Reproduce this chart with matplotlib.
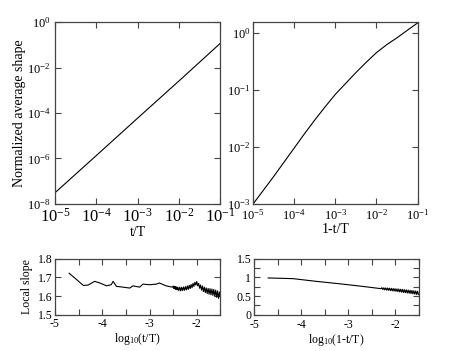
import matplotlib
matplotlib.use("Agg")
import matplotlib.pyplot as plt
from matplotlib.ticker import (FixedLocator, MultipleLocator, NullLocator,
                               NullFormatter, LogFormatterSciNotation)

plt.rcParams["font.family"] = ["Liberation Serif", "DejaVu Serif"]
plt.rcParams["mathtext.fontset"] = "custom"
plt.rcParams["mathtext.rm"] = "Liberation Serif"
plt.rcParams["mathtext.it"] = "Liberation Serif:italic"
plt.rcParams["axes.unicode_minus"] = False

# top left: average shape vs t/T (straight power law)
shape_t = [1e-5, 1e-4, 1e-3, 1e-2, 1e-1]
shape_early = [3.1e-8, 1.35e-6, 6.0e-5, 2.6e-3, 0.118]
decades_t = [1e-5, 1e-4, 1e-3, 1e-2, 1e-1]
decades_early = [1e-8, 1e-6, 1e-4, 1e-2, 1]
decades_late = [1e-3, 1e-2, 1e-1, 1]

# top right: average shape vs 1-t/T
late_t = [1e-5, 1.78e-5, 3.16e-5, 5.62e-5, 1e-4, 1.78e-4, 3.16e-4, 5.62e-4, 1e-3,
          1.78e-3, 3.16e-3, 5.62e-3, 1e-2, 1.78e-2, 3.16e-2, 5.62e-2, 1e-1]
shape_late = [1.0e-3, 1.74e-3, 3.02e-3, 5.37e-3, 9.55e-3, 1.70e-2, 2.95e-2, 5.01e-2,
              8.32e-2, 0.129, 0.200, 0.302, 0.447, 0.617, 0.813, 1.10, 1.48]

# bottom left: local slope vs log10(t/T)
slope_early_x = [-4.70, -4.55, -4.40, -4.30, -4.16, -4.05, -3.91, -3.81, -3.77, -3.70,
                 -3.56, -3.42, -3.35, -3.21, -3.14, -3.00, -2.86, -2.79, -2.65, -2.52,
                 -2.50, -2.49, -2.48, -2.47, -2.46, -2.45, -2.44, -2.43, -2.42, -2.41,
                 -2.40, -2.38, -2.36, -2.34, -2.32, -2.30, -2.28, -2.26, -2.24, -2.22,
                 -2.20, -2.18, -2.16, -2.14, -2.12, -2.10, -2.08, -2.06, -2.04, -2.02,
                 -2.00, -1.98, -1.96, -1.94, -1.92, -1.90, -1.88, -1.86, -1.84, -1.82,
                 -1.80, -1.78, -1.76, -1.74, -1.72, -1.70, -1.68, -1.66, -1.64, -1.62,
                 -1.60, -1.58, -1.56, -1.54, -1.52, -1.50]
slope_early = [1.722, 1.690, 1.657, 1.659, 1.679, 1.670, 1.655, 1.661, 1.679, 1.652,
               1.648, 1.643, 1.655, 1.648, 1.664, 1.661, 1.664, 1.670, 1.655, 1.648,
               1.654, 1.642, 1.652, 1.640, 1.651, 1.637, 1.649, 1.635, 1.648, 1.634,
               1.647, 1.629, 1.648, 1.628, 1.647, 1.630, 1.649, 1.631, 1.651, 1.633,
               1.655, 1.636, 1.658, 1.640, 1.662, 1.645, 1.668, 1.652, 1.674, 1.659,
               1.678, 1.655, 1.668, 1.642, 1.660, 1.632, 1.654, 1.624, 1.648, 1.619,
               1.644, 1.614, 1.641, 1.610, 1.640, 1.607, 1.638, 1.604, 1.636, 1.600,
               1.632, 1.594, 1.628, 1.588, 1.622, 1.596]

# bottom right: local slope vs log10(1-t/T)
slope_late_x = [-4.70, -4.17, -3.68, -3.18, -2.69, -2.40, -2.30,
                -2.28, -2.26, -2.24, -2.22, -2.20, -2.18, -2.16, -2.14, -2.12, -2.10,
                -2.08, -2.06, -2.04, -2.02, -2.00, -1.98, -1.96, -1.94, -1.92, -1.90,
                -1.88, -1.86, -1.84, -1.82, -1.80, -1.78, -1.76, -1.74, -1.72, -1.70,
                -1.68, -1.66, -1.64, -1.62, -1.60, -1.58, -1.56, -1.54, -1.52, -1.50]
slope_late = [0.985, 0.967, 0.895, 0.830, 0.760, 0.715, 0.700,
              0.725, 0.675, 0.722, 0.668, 0.720, 0.660, 0.716, 0.654, 0.712, 0.648,
              0.708, 0.640, 0.703, 0.634, 0.699, 0.627, 0.694, 0.620, 0.690, 0.612,
              0.684, 0.606, 0.679, 0.598, 0.672, 0.592, 0.668, 0.584, 0.662, 0.577,
              0.656, 0.569, 0.650, 0.561, 0.644, 0.553, 0.637, 0.545, 0.630, 0.540]

fig = plt.figure(figsize=(4.74, 3.51), dpi=100)
ax_tl = fig.add_axes([0.116, 0.419, 0.349, 0.518])
ax_tr = fig.add_axes([0.534, 0.419, 0.347, 0.518])
ax_bl = fig.add_axes([0.116, 0.103, 0.349, 0.160])
ax_br = fig.add_axes([0.536, 0.103, 0.347, 0.160])

line_kw = dict(color="black", lw=0.8)


def style(ax, size):
    for sp in ax.spines.values():
        sp.set_linewidth(0.9)
        sp.set_color("#444444")
    ax.tick_params(which="both", direction="in", top=True, right=True,
                   length=4, width=0.8, color="#444444", labelsize=size, pad=2)


def log_ticks(ax, xt, yt):
    ax.xaxis.set_major_locator(FixedLocator(xt))
    ax.yaxis.set_major_locator(FixedLocator(yt))
    ax.xaxis.set_major_formatter(LogFormatterSciNotation())
    ax.yaxis.set_major_formatter(LogFormatterSciNotation())
    ax.xaxis.set_minor_locator(NullLocator())
    ax.yaxis.set_minor_locator(NullLocator())


ax_tl.loglog(shape_t, shape_early, **line_kw)
ax_tl.set_xlim(1e-5, 1e-1)
ax_tl.set_ylim(1e-8, 1)
log_ticks(ax_tl, decades_t, decades_early)
style(ax_tl, 9)
ax_tl.tick_params(axis="x", labelsize=12, pad=3)
ax_tl.tick_params(axis="y", pad=3)
ax_tl.set_xlabel("t/T", fontsize=10, labelpad=0)
ax_tl.set_ylabel("Normalized average shape", fontsize=10, labelpad=1)

ax_tr.loglog(late_t, shape_late, **line_kw)
ax_tr.set_xlim(1e-5, 1e-1)
ax_tr.set_ylim(1e-3, 1.53)
log_ticks(ax_tr, decades_t, decades_late)
style(ax_tr, 9)
ax_tr.tick_params(axis="x", pad=3)
ax_tr.set_xlabel("1-t/T", fontsize=10, labelpad=0)

ax_bl.plot(slope_early_x, slope_early, **line_kw)
ax_bl.set_xlim(-5, -1.5)
ax_bl.set_ylim(1.5, 1.8)
ax_bl.xaxis.set_major_locator(FixedLocator([-5, -4, -3, -2]))
ax_bl.xaxis.set_minor_locator(MultipleLocator(0.5))
ax_bl.yaxis.set_major_locator(MultipleLocator(0.1))
style(ax_bl, 8.5)
ax_bl.tick_params(which="minor", length=4)
ax_bl.set_xlabel("log$_{10}$(t/T)", fontsize=8.5, labelpad=1)
ax_bl.set_ylabel("Local slope", fontsize=8.5, labelpad=3)

ax_br.plot(slope_late_x, slope_late, **line_kw)
ax_br.set_xlim(-5, -1.5)
ax_br.set_ylim(0, 1.5)
ax_br.xaxis.set_major_locator(FixedLocator([-5, -4, -3, -2]))
ax_br.xaxis.set_minor_locator(MultipleLocator(0.5))
ax_br.yaxis.set_major_locator(MultipleLocator(0.5))
ax_br.yaxis.set_minor_locator(MultipleLocator(0.25))
ax_br.yaxis.set_minor_formatter(NullFormatter())
ax_br.yaxis.set_major_formatter(plt.FuncFormatter(lambda v, p: f"{v:g}"))
style(ax_br, 8.5)
ax_br.tick_params(axis="x", pad=3)
ax_br.set_xlabel("log$_{10}$(1-t/T)", fontsize=8.5, labelpad=1)

fig.savefig("out.png", dpi=100)
